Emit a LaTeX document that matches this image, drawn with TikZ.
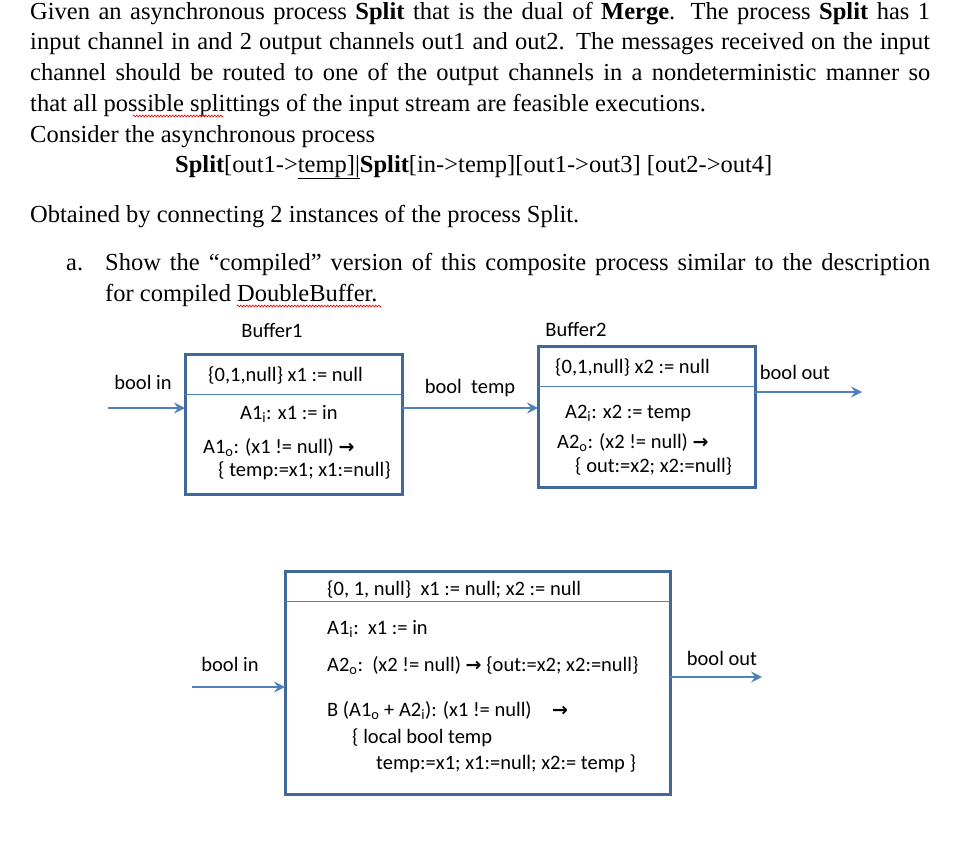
\documentclass[tikz,border=0pt]{standalone}
\usepackage{fontspec}
\setmainfont{Liberation Serif}
\newfontfamily\calfont{Carlito}
\newfontfamily\dvfont{DejaVu Sans}
\usetikzlibrary{arrows.meta,decorations.pathmorphing}
\definecolor{boxc}{HTML}{41689A}
\definecolor{linec}{HTML}{4F81BD}
\newcommand{\myar}{{\dvfont\fontsize{19}{19}\selectfont\textbf{→}}}
\begin{document}
\begin{tikzpicture}[x=1pt,y=-1pt,
  body/.style={anchor=base west,inner sep=0,font=\fontsize{24.5}{29}\selectfont},
  lbl/.style={inner sep=0,font=\calfont\fontsize{20.5}{24}\selectfont},
  lblw/.style={lbl,anchor=base west},
  pbox/.style={draw=boxc,line width=3pt},
  div/.style={draw=linec,line width=1pt},
  conn/.style={draw=linec,line width=2pt,-{Stealth[length=11pt,width=11pt,inset=4pt]}},
  wavy/.style={draw=red,line width=0.6pt,decorate,decoration={zigzag,amplitude=1pt,segment length=3pt}}]
\useasboundingbox (0,0) rectangle (960,848);
% text
\node[body] (t1) at (30,20) {\makebox[900pt][s]{Given an asynchronous process \textbf{Split} that is the dual of \textbf{Merge}. The process \textbf{Split} has 1}};
\node[body] (t2) at (30,50) {\makebox[900pt][s]{input channel in and 2 output channels out1 and out2. The messages received on the input}};
\node[body] (t3) at (30,81) {\makebox[900pt][s]{channel should be routed to one of the output channels in a nondeterministic manner so}};
\node[body] (t4) at (30,111) {that all possible splittings of the input stream are feasible executions.};
\draw[wavy] (133,116) -- (223,116);
\node[body] (t5) at (30,142) {Consider the asynchronous process};
\node[body] (t6) at (175,172) {\textbf{Split}[out1->\underline{temp]|}\textbf{Split}[in->temp][out1->out3] [out2->out4]};
\node[body] (t7) at (30,222) {Obtained by connecting 2 instances of the process Split.};
\node[body] (t8) at (66,270) {a.};
\node[body] (t9) at (105,270) {\makebox[825pt][s]{Show the “compiled” version of this composite process similar to the description}};
\node[body] (t10) at (105,301) {for compiled DoubleBuffer.};
\draw[wavy] (237,306) -- (381,306);
% first diagram
\node[lbl] (b1t) at (272,330) {Buffer1};
\node[lbl] (b2t) at (576,329) {Buffer2};
\draw[pbox] (185,354) rectangle (402,494);
\draw[div] (185,394) -- (402,394);
\draw[pbox] (538,346) rectangle (755,487);
\draw[div] (538,386) -- (755,386);
\coordinate (b1in) at (185,408); \coordinate (b1out) at (402,408);
\coordinate (b2in) at (538,408); \coordinate (b2out) at (755,392);
\coordinate (s1) at (108,408); \coordinate (e1) at (862,392);
\draw[conn] (s1) -- (b1in);
\draw[conn] (b1out) -- (b2in);
\draw[conn] (b2out) -- (e1);
\node[lbl] (l1) at (143,382) {bool in};
\node[lbl] (l2) at (470,388) {bool\ \ temp};
\node[lbl] (l3) at (795,372) {bool out};
\node[lblw] (a1) at (208,381) {\{0,1,null\} x1 := null};
\node[lblw] (a2) at (240,419) {A1\textsubscript{i}: x1 := in};
\node[lblw] (a3) at (203,453) {A1\textsubscript{o}: (x1 != null) \myar};
\node[lblw] (a4) at (218,476) {\{ temp:=x1; x1:=null\}};
\node[lblw] (c1) at (555,373) {\{0,1,null\} x2 := null};
\node[lblw] (c2) at (565,418) {A2\textsubscript{i}: x2 := temp};
\node[lblw] (c3) at (557,448) {A2\textsubscript{o}: (x2 != null) \myar};
\node[lblw] (c4) at (575,472) {\{ out:=x2; x2:=null\}};
% second diagram
\draw[pbox] (285,571) rectangle (670,794);
\draw[div] (285,601) -- (670,601);
\coordinate (d1) at (192,687); \coordinate (din) at (285,687);
\coordinate (dout) at (670,677); \coordinate (d2) at (762,677);
\draw[conn] (d1) -- (din);
\draw[conn] (dout) -- (d2);
\node[lbl] (l4) at (230,664) {bool in};
\node[lbl] (l5) at (722,658) {bool out};
\node[lblw] (e1t) at (327,595) {\{0, 1, null\}\ \ x1 := null; x2 := null};
\node[lblw] (e2t) at (327,634) {A1\textsubscript{i}:\ \ x1 := in};
\node[lblw] (e3t) at (327,671) {A2\textsubscript{o}:\ \ (x2 != null) \myar\ \{out:=x2; x2:=null\}};
\node[lblw] (e4t) at (327,716) {B (A1\textsubscript{o} + A2\textsubscript{i}): (x1 != null)\quad\myar};
\node[lblw] (e5t) at (352,743) {\{ local bool temp};
\node[lblw] (e6t) at (376,769) {temp:=x1; x1:=null; x2:= temp \}};
\end{tikzpicture}
\end{document}
